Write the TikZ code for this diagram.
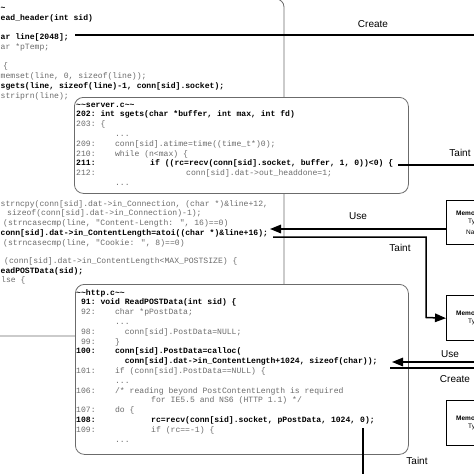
\documentclass[tikz,border=0pt]{standalone}
\usepackage{fontspec}
\setmainfont{Liberation Sans}
\newfontfamily\cmono{Liberation Mono}
\usetikzlibrary{arrows.meta}
\definecolor{codegray}{rgb}{0.42,0.42,0.42}
\definecolor{boxgray}{rgb}{0.42,0.42,0.42}
\begin{document}
\begin{tikzpicture}[x=1pt,y=-1pt,
  code/.style={font=\cmono\fontsize{8.1}{9.7}\selectfont, text=codegray, anchor=west, inner sep=0pt, text height=5.5pt, text depth=1.5pt},
  codeb/.style={code, font=\cmono\bfseries\fontsize{8.1}{9.7}\selectfont, text=black},
  lbl/.style={font=\fontsize{10}{12}\selectfont, inner sep=0pt},
  memt/.style={font=\fontsize{6.5}{8}\selectfont, anchor=west, inner sep=0pt},
  memtb/.style={memt, font=\bfseries\fontsize{6.5}{8}\selectfont},
  membox/.style={draw=black, line width=1.4pt, fill=white, anchor=north west, minimum width=60pt, inner sep=0pt},
  codebox/.style={draw=boxgray, line width=0.8pt, rounded corners=9pt, fill=white, anchor=north west, inner sep=0pt},
  conn/.style={draw=black, line width=1.5pt},
  arr/.style={conn, -{Triangle[length=11pt,width=8.5pt]}}
]
\useasboundingbox (0,0) rectangle (474,474);
\clip (0,0) rectangle (474,474);

% background code box (partly outside the picture)
\draw[boxgray, line width=0.8pt, rounded corners=8pt] (-20,-1) rectangle (284,336);

% main code (left part of the listing)
\node[codeb] (m0) at (0.5,8) {\textasciitilde};
\node[codeb] (m1) at (0.5,18) {ead\_header(int sid)};
\node[codeb] (m2) at (0.5,37.5) {ar line[2048];};
\node[code]  (m3) at (0.5,47.3) {ar *pTemp;};
\node[code]  (m4) at (3,66.8) {\{};
\node[code]  (m5) at (0.5,76.6) {memset(line, 0, sizeof(line));};
\node[codeb] (m6) at (0.5,86.4) {sgets(line, sizeof(line)-1, conn[sid].socket);};
\node[code]  (m7) at (0.5,96.2) {striprn(line);};
\node[code]  (m8) at (0.5,204) {strncpy(conn[sid].dat->in\_Connection, (char *)\&line+12,};
\node[code]  (m9) at (7,213.8) {sizeof(conn[sid].dat->in\_Connection)-1);};
\node[code]  (m10) at (3,223.5) {(strncasecmp(line, "Content-Length: ", 16)==0)};
\node[codeb] (m11) at (0.5,233.2) {conn[sid].dat->in\_ContentLength=atoi((char *)\&line+16);};
\node[code]  (m12) at (3,243) {(strncasecmp(line, "Cookie: ", 8)==0)};
\node[code]  (m13) at (4,261.5) {(conn[sid].dat->in\_ContentLength<MAX\_POSTSIZE) \{};
\node[codeb] (m14) at (0.5,271) {eadPOSTData(sid);};
\node[code]  (m15) at (1,280.5) {lse \{};

% server.c box
\node[codebox, minimum width=334pt, minimum height=96pt] (srv) at (74,97) {};
\node[codeb] (s0) at (76,105) {\textasciitilde\textasciitilde server.c\textasciitilde\textasciitilde};
\node[codeb] (s1n) at (76,114.8) {202:};
\node[codeb] (s1) at (100.3,114.8) {int sgets(char *buffer, int max, int fd)};
\node[code] (s2n) at (76,124.6) {203:};
\node[code] (s2) at (100.3,124.6) {\{};
\node[code] (s3) at (114.9,134.4) {...};
\node[code] (s4n) at (76,144.2) {209:};
\node[code] (s4) at (114.9,144.2) {conn[sid].atime=time((time\_t*)0);};
\node[code] (s5n) at (76,154) {210:};
\node[code] (s5) at (114.9,154) {while (n<max) \{};
\node[codeb] (s6n) at (76,163.8) {211:};
\node[codeb] (s6) at (150,163.8) {if ((rc=recv(conn[sid].socket, buffer, 1, 0))<0) \{};
\node[code] (s7n) at (76,173.6) {212:};
\node[code] (s7) at (186,173.6) {conn[sid].dat->out\_headdone=1;};
\node[code] (s8) at (114.9,183.4) {...};

% http.c box
\node[codebox, minimum width=333pt, minimum height=170pt] (htp) at (75,284) {};
\node[codeb] (h0) at (76,293) {\textasciitilde\textasciitilde http.c\textasciitilde\textasciitilde};
\node[codeb] (h1n) at (80.9,302.8) {91:};
\node[codeb] (h1) at (100.3,302.8) {void ReadPOSTData(int sid) \{};
\node[code] (h2n) at (80.9,312.6) {92:};
\node[code] (h2) at (114.9,312.6) {char *pPostData;};
\node[code] (h3) at (114.9,322.4) {...};
\node[code] (h4n) at (80.9,332.2) {98:};
\node[code] (h4) at (124.6,332.2) {conn[sid].PostData=NULL;};
\node[code] (h5n) at (80.9,342) {99:};
\node[code] (h5) at (114.9,342) {\}};
\node[codeb] (h6n) at (76,351.8) {100:};
\node[codeb] (h6) at (114.9,351.8) {conn[sid].PostData=calloc(};
\node[codeb] (h7) at (124.6,361.6) {conn[sid].dat->in\_ContentLength+1024, sizeof(char));};
\node[code] (h8n) at (76,371.4) {101:};
\node[code] (h8) at (114.9,371.4) {if (conn[sid].PostData==NULL) \{};
\node[code] (h9) at (114.9,381.2) {...};
\node[code] (h10n) at (76,391) {106:};
\node[code] (h10) at (114.9,391) {/* reading beyond PostContentLength is required};
\node[code] (h11) at (151,400.8) {for IE5.5 and NS6 (HTTP 1.1) */};
\node[code] (h12n) at (76,410.6) {107:};
\node[code] (h12) at (114.9,410.6) {do \{};
\node[codeb] (h13n) at (76,420.4) {108:};
\node[codeb] (h13) at (151,420.4) {rc=recv(conn[sid].socket, pPostData, 1024, 0);};
\node[code] (h14n) at (76,430.2) {109:};
\node[code] (h14) at (151,430.2) {if (rc==-1) \{};
\node[code] (h15) at (114.9,440) {...};

% memory boxes (partly outside the picture)
\node[membox, minimum height=44pt] (mem1) at (446,200) {};
\node[memtb] (mt1a) at (456,213) {Memo};
\node[memt] (mt1b) at (468,222) {Ty};
\node[memt] (mt1c) at (466,232) {Na};
\node[membox, minimum height=45pt] (mem2) at (446,295) {};
\node[memtb] (mt2a) at (456,313) {Memo};
\node[memt] (mt2b) at (468,322) {Ty};
\node[membox, minimum height=45pt] (mem3) at (446,400) {};
\node[memtb] (mt3a) at (456,418) {Memo};
\node[memt] (mt3b) at (468,427) {Ty};

% labels
\node[lbl] (lC1) at (373,24) {Create};
\node[lbl] (lT1) at (460,153) {Taint};
\node[lbl] (lU1) at (358,216) {Use};
\node[lbl] (lT2) at (400,248) {Taint};
\node[lbl] (lU2) at (450,354) {Use};
\node[lbl] (lC2) at (455,379) {Create};
\node[lbl] (lT3) at (417,461) {Taint};

% connector end points
\coordinate (c1s) at (75,35);
\coordinate (c1e) at (480,35);
\coordinate (t1s) at (398,165);
\coordinate (t1e) at (480,165);
\coordinate (u1e) at (270,229);
\coordinate (t2s) at (273,237);
\coordinate (t2k) at (426,317.5);
\coordinate (u2s) at (480,362);
\coordinate (u2e) at (392,362);
\coordinate (c2s) at (390,368);
\coordinate (c2e) at (480,368);
\coordinate (t3s) at (363,428);
\coordinate (t3e) at (363,480);

% connectors
\draw[conn, line width=1.9pt] (c1s) -- (c1e);
\draw[conn] (t1s) -- (t1e);
\draw[arr] (mem1.west |- u1e) -- (u1e);
\draw[arr] (t2s) -| (t2k) -- (mem2.west);
\draw[arr] (u2s) -- (u2e);
\draw[conn] (c2s) -- (c2e);
\draw[conn] (t3s) -- (t3e);
\end{tikzpicture}
\end{document}
